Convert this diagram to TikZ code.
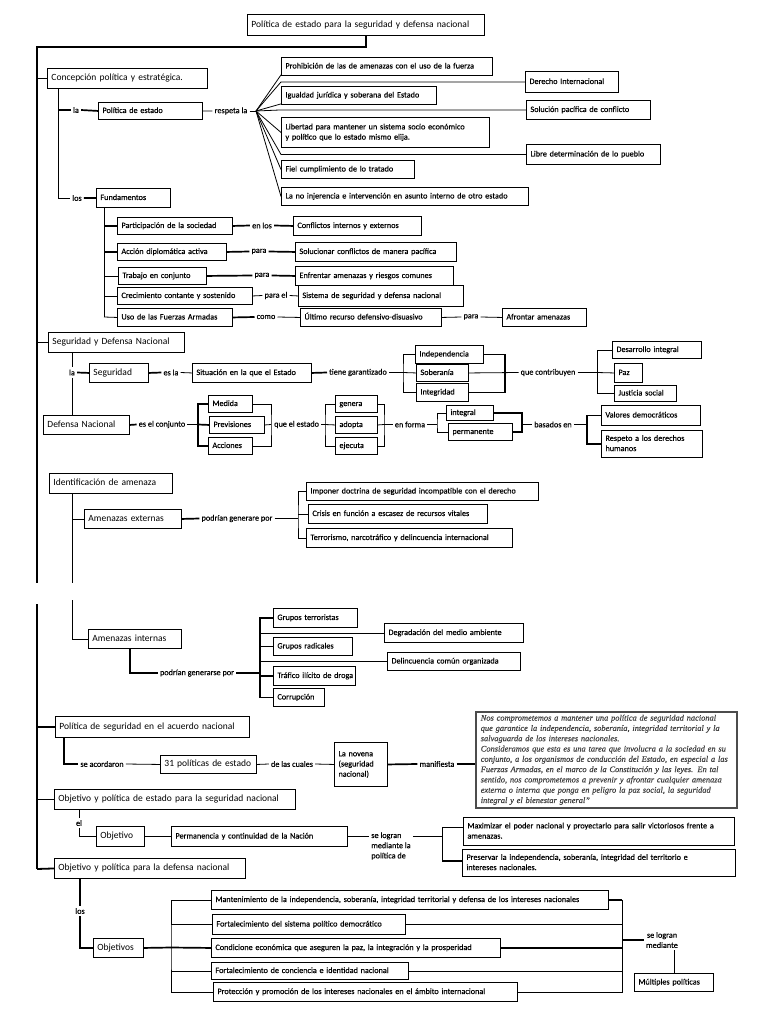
\documentclass[tikz,border=0pt]{standalone}
\usepackage{fontspec}
\setmainfont{Carlito}
\newfontfamily\boxfont[FakeBold=0.35]{Carlito}
\newfontfamily\qfont[FakeBold=0.3]{Liberation Serif}
\newcommand\smallf{\boxfont\fontsize{8.2}{10.2}\selectfont}
\newcommand\hdrf{\fontsize{9.5}{11}\selectfont}
\newcommand\bx[7][]{%
  \pgfmathsetmacro\bxw{#5-#3}\pgfmathsetmacro\bxh{#6-#4}\pgfmathsetmacro\bxt{#5-#3-8}%
  \node[box,#1,anchor=north west,minimum width=\bxw pt,minimum height=\bxh pt,text width=\bxt pt] (#2) at (#3,#4) {\begin{tabular}{@{}l@{}}#7\end{tabular}};}
\tikzset{
  box/.style={draw,line width=0.9pt,fill=white,inner ysep=0pt,inner xsep=4pt,align=left,font=\smallf},
  hdr/.style={font=\hdrf},
  lbl/.style={font=\smallf,inner sep=2pt},
  ln/.style={line width=0.8pt},
  thk/.style={line width=1.7pt},
  spine/.style={line width=1.8pt},
  qbox/.style={draw=black!70,line width=1.5pt,anchor=north west,text width=251pt,inner xsep=5pt,inner ysep=3pt,minimum height=96pt,align=left,text=black!75,font=\qfont\itshape\fontsize{8.4}{10.3}\selectfont}
}
\begin{document}
\begin{tikzpicture}[x=1pt,y=-1pt]
\useasboundingbox (0,0) rectangle (768,1024);
\fill[white] (0,0) rectangle (768,1024);

% ---------- title and spine
\bx[hdr]{title}{247}{14}{484}{35}{Política de estado para la seguridad y defensa nacional}
\coordinate (sp) at (37,47);
\coordinate (spe) at (37,583);
\coordinate (sp2) at (37,604);
\draw[spine] (title.south) |- (sp) -- (spe);

% ---------- Concepcion
\bx[hdr]{c1}{47}{68}{207}{88}{Concepción política y estratégica.}
\draw[spine] (sp |- c1.west) -- (c1.west);
\coordinate (v1b) at (58,198);
\node[lbl] (la1) at (76,110) {la};
\node[lbl] (los1) at (77,198) {los};
\bx{pe}{98}{102}{202}{119}{Política de estado}
\bx{f0}{96}{188}{170}{207}{Fundamentos}
\draw[ln] (v1b |- c1.south) -- (v1b) -- (los1.west);
\draw[thk] (la1.west -| v1b) -- (la1.west);
\draw[thk] (la1.east) -- (pe.west);
\draw[thk] (los1.east) -- (f0.west);

\node[lbl] (resp) at (231,111) {respeta la};
\coordinate (F) at (256,111);
\draw[ln] (pe.east) -- (resp.west);
\draw[ln] (resp.east) -- (F);

\bx{p1}{281}{57}{492}{75}{Prohibición de las de amenazas con el uso de la fuerza}
\bx{d1}{525}{71}{618}{92}{Derecho Internacional}
\bx{p2}{281}{86}{436}{104}{Igualdad jurídica y soberana del Estado}
\bx{d2}{526}{100}{650}{119}{Solución pacífica de conflicto}
\bx{p3}{281}{117}{489}{147}{Libertad para mantener un sistema socio económico\\y político que lo estado mismo elija.}
\bx{d3}{526}{144}{660}{164}{Libre determinación de lo pueblo}
\bx{p4}{281}{160}{414}{178}{Fiel cumplimiento de lo tratado}
\bx{p5}{281}{187}{528}{205}{La no injerencia e intervención en asunto interno de otro estado}
\draw[ln] (F) -- ([yshift=1pt]p1.south west);
\draw[ln] (F) -- (d1.west -| p1.west) -- (d1.west);
\draw[ln] (F) -- ([yshift=1pt]p2.south west);
\draw[ln] (F) -- (d2.west -| p1.west) -- (d2.west);
\draw[ln] (F) -- (p3.west);
\draw[ln] (F) -- (d3.west -| p1.west) -- (d3.west);
\draw[ln] (F) -- (p4.west);
\draw[ln] (F) -- (p5.west);

% ---------- Fundamentos rows
\coordinate (v2) at (104,317);
\bx{r1}{117}{217}{232}{234}{Participación de la sociedad}
\bx{r2}{117}{243}{226}{260}{Acción diplomática activa}
\bx{r3}{118}{267}{206}{284}{Trabajo en conjunto}
\bx{r4}{117}{287}{252}{304}{Crecimiento contante y sostenido}
\bx{r5}{117}{308}{232}{326}{Uso de las Fuerzas Armadas}
\draw[ln] (v2 |- f0.south) -- (v2);
\draw[thk] (r1.west -| v2) -- (r1.west);
\draw[thk] (r2.west -| v2) -- (r2.west);
\draw[ln] (r3.west -| v2) -- (r3.west);
\draw[ln] (r4.west -| v2) -- (r4.west);
\draw[ln] (v2) -- (r5.west);

\node[lbl] (r1l) at (262,225.5) {en los};
\bx{t1}{293}{216}{421}{235}{Conflictos internos y externos}
\draw[thk] (r1.east) -- (r1l.west);
\draw[thk] (r1l.east) -- (t1.west);

\node[lbl] (r2l) at (259,251.5) {para};
\bx{t2}{295}{242}{456}{261}{Solucionar conflictos de manera pacífica}
\draw[thk] (r2.east) -- (r2l.west);
\draw[thk] (r2l.east) -- (t2.west);

\node[lbl] (r3l) at (262,275.5) {para};
\bx{t3}{295}{266}{453}{285}{Enfrentar amenazas y riesgos comunes}
\draw[thk] (r3.east) -- (r3l.west);
\draw[thk] (r3l.east) -- (t3.west);

\node[lbl] (r4l) at (276,295.5) {para el};
\bx{t4}{298}{285}{463}{306}{Sistema de seguridad y defensa nacional}
\draw[ln] (r4.east) -- (r4l.west);
\draw[ln] (r4l.east) -- (t4.west);

\node[lbl] (r5l) at (266,317) {como};
\bx{t5}{300}{308}{441}{326}{Último recurso defensivo-disuasivo}
\node[lbl] (r5m) at (471,317) {para};
\bx{t6}{502}{308}{586}{326}{Afrontar amenazas}
\draw[thk] (r5.east) -- (r5l.west);
\draw[ln] (r5l.east) -- (t5.west);
\draw[ln] (t5.east) -- (r5m.west);
\draw[ln] (r5m.east) -- (t6.west);

% ---------- Seguridad y Defensa Nacional
\bx[hdr]{sdn}{48}{332}{184}{352}{Seguridad y Defensa Nacional}
\draw[spine] (sp |- sdn.west) -- (sdn.west);
\node[lbl] (la2) at (72,372.5) {la};
\bx[hdr]{seg}{89}{363}{148}{382}{Seguridad}
\bx[hdr]{dn}{43}{415}{129}{434}{Defensa Nacional}
\draw[ln] (la2 |- sdn.south) -- (la2.north);
\draw[ln] (la2.south) -- (la2 |- dn.north);
\draw[thk] (la2.east) -- (seg.west);

\node[lbl] (esla) at (171,372.5) {es la};
\bx{sit}{192}{363}{311}{382}{Situación en la que el Estado}
\draw[thk] (seg.east) -- (esla.west);
\draw[ln] (esla.east) -- (sit.west);
\node[lbl] (tg) at (358,372.5) {tiene garantizado};
\draw[thk] (sit.east) -- (tg.west);
\coordinate (b1) at (403,372.5);
\draw[ln] (tg.east) -- (b1);
\bx{ind}{415}{345}{483}{363}{Independencia}
\bx{sob}{416}{364}{468}{381}{Soberanía}
\bx{itd}{416}{383}{468}{401}{Integridad}
\draw[ln] (ind.west) -| (b1) |- (itd.west);
\draw[ln] (b1) -- (sob.west);
\coordinate (b2) at (505,372.5);
\draw[thk] (ind.east) -| (b2) |- (itd.east);
\node[lbl] (qc) at (548,372.5) {que contribuyen};
\draw[ln] (sob.east) -- (qc.west);
\coordinate (b3) at (597,372.5);
\draw[thk] (qc.east) -- (b3);
\bx{des}{612}{341}{701}{358}{Desarrollo integral}
\bx{paz}{614}{363}{642}{382}{Paz}
\bx{jus}{614}{385}{676}{401}{Justicia social}
\draw[ln] (des.west) -| (b3) |- (jus.west);
\draw[ln] (b3) -- (paz.west);

\node[lbl] (ec) at (162,424.5) {es el conjunto};
\draw[thk] (dn.east) -- (ec.west);
\coordinate (b4) at (198,424.5);
\draw[thk] (ec.east) -- (b4);
\bx{med}{208}{395}{252}{412}{Medida}
\bx{pre}{209}{416}{264}{433}{Previsiones}
\bx{acc}{208}{437}{252}{454}{Acciones}
\draw[thk] (med.west) -| (b4) |- (acc.west);
\draw[thk] (b4) -- (pre.west);
\coordinate (b5) at (271,424.5);
\draw[ln] (med.east) -| (b5) |- (acc.east);
\draw[ln] (pre.east) -- (b5);
\node[lbl,anchor=west] (qe) at (272,424.5) {que el estado};
\coordinate (b6) at (325,424.5);
\draw[ln] (qe.east) -- (b6);
\bx{gen}{335}{395}{377}{412}{genera}
\bx{ado}{335}{416}{377}{433}{adopta}
\bx{eje}{335}{437}{377}{454}{ejecuta}
\draw[ln] (gen.west) -| (b6) |- (eje.west);
\draw[ln] (b6) -- (ado.west);
\coordinate (b7) at (384,424.5);
\draw[ln] (gen.east) -| (b7) |- (eje.east);
\draw[ln] (ado.east) -- (b7);
\node[lbl] (ef) at (410,424.5) {en forma};
\draw[ln] (b7) -- (ef.west);
\coordinate (b8) at (437,424.5);
\draw[ln] (ef.east) -- (b8);
\bx{itg}{446}{405}{493}{420}{integral}
\bx{per}{448}{423}{512}{440}{permanente}
\draw[ln] (itg.west) -| (b8) |- (per.west);
\coordinate (b9) at (522,424.5);
\draw[thk] (itg.east) -| (b9) |- (per.east);
\node[lbl] (bas) at (553,424.5) {basados en};
\draw[ln] (b9) -- (bas.west);
\coordinate (b10) at (587,424.5);
\draw[thk] (bas.east) -- (b10);
\bx{val}{601}{405}{700}{425}{Valores democráticos}
\bx{res}{601}{430}{702}{457}{Respeto a los derechos\\humanos}
\draw[thk] (val.west) -| (b10) |- (res.west);

% ---------- Identificacion de amenaza
\bx[hdr]{ia}{49}{473}{172}{493}{Identificación de amenaza}
\coordinate (v3a) at (72,583);
\coordinate (v3b) at (72,600);
\bx[hdr]{ae}{84}{509}{181}{528}{Amenazas externas}
\draw[ln] (v3a |- ia.south) -- (v3a);
\draw[ln] (v3a |- ae.west) -- (ae.west);
\node[lbl] (pg1) at (237,518.5) {podrían generare por};
\draw[thk] (ae.east) -- (pg1.west);
\coordinate (b11) at (298,518.5);
\draw[thk] (pg1.east) -- (b11);
\bx{im}{306}{482}{538}{500}{Imponer doctrina de seguridad incompatible con el derecho}
\bx{cr}{308}{504}{487}{523}{Crisis en función a escasez de recursos vitales}
\bx{te}{306}{528}{512}{547}{Terrorismo, narcotráfico y delincuencia internacional}
\draw[ln] (im.west) -| (b11) |- (te.west);
\draw[ln] (b11 |- cr.west) -- (cr.west);

\bx[hdr]{ai}{88}{629}{181}{648}{Amenazas internas}
\draw[ln] (v3b) |- (ai.west);
\node[lbl] (pg2) at (197,673) {podrían generarse por};
\draw[thk] ([xshift=-5pt]ai.south) |- (pg2.west);
\coordinate (b12) at (260,673);
\draw[thk] (pg2.east) -- (b12);
\bx{gt}{273}{608}{357}{627}{Grupos terroristas}
\bx{dg}{384}{623}{523}{642}{Degradación del medio ambiente}
\bx{gr}{273}{637}{352}{655}{Grupos radicales}
\bx{dc}{387}{652}{520}{670}{Delincuencia común organizada}
\bx{ti}{273}{666}{355}{685}{Tráfico ilícito de droga}
\bx{co}{273}{688}{324}{706}{Corrupción}
\draw[thk] (gt.west) -| (b12) |- (co.west);
\draw[ln] (b12 |- dg.west) -- (dg.west);
\draw[thk] (b12 |- gr.west) -- (gr.west);
\draw[thk] (b12 |- dc.west) -- (dc.west);
\draw[thk] (b12 |- ti.west) -- (ti.west);

% ---------- Politica de seguridad en el acuerdo nacional
\draw[spine] (sp2) -- (sp2 |- 0,869);
\bx[hdr]{psa}{55}{716}{249}{737}{Política de seguridad en el acuerdo nacional}
\draw[spine] (sp2 |- psa.west) -- (psa.west);
\node[lbl] (sa) at (102,764) {se acordaron};
\draw[thk] ([xshift=9pt]psa.south west) |- (sa.west);
\bx[hdr]{p31}{160}{755}{256}{773}{31 políticas de estado}
\draw[ln] (sa.east) -- (p31.west);
\node[lbl] (dlc) at (292,764) {de las cuales};
\draw[ln] (p31.east) -- (dlc.west);
\bx{nov}{334}{742}{387}{786}{La novena\\(seguridad\\nacional)}
\draw[ln] (dlc.east) -- (nov.west);
\node[lbl] (man) at (437,764) {manifiesta};
\draw[thk] (nov.east) -- (man.west);
\node[qbox] (quote) at (475,711) {%
\makebox[\linewidth][s]{Nos comprometemos a mantener una política de seguridad nacional}\\
\makebox[\linewidth][s]{que garantice la independencia, soberanía, integridad territorial y la}\\
salvaguarda de los intereses nacionales.\\
\makebox[\linewidth][s]{Consideramos que esta es una tarea que involucra a la sociedad en su}\\
\makebox[\linewidth][s]{conjunto, a los organismos de conducción del Estado, en especial a las}\\
\makebox[\linewidth][s]{Fuerzas Armadas, en el marco de la Constitución y las leyes. En tal}\\
\makebox[\linewidth][s]{sentido, nos comprometemos a prevenir y afrontar cualquier amenaza}\\
\makebox[\linewidth][s]{externa o interna que ponga en peligro la paz social, la seguridad}\\
integral y el bienestar general”};
\draw[thk] (man.east) -- (man.east -| quote.west);

% ---------- Objetivo y politica de estado para la seguridad nacional
\bx[hdr]{ope}{54}{789}{295}{809}{Objetivo y política de estado para la seguridad nacional}
\draw[spine] (sp2 |- ope.west) -- (ope.west);
\node[lbl] (el) at (79,823) {el};
\bx[hdr]{obj}{96}{826}{144}{846}{Objetivo}
\draw[ln] (el |- ope.south) -- (el.north);
\draw[ln] (el.south) |- (obj.west);
\bx{pcn}{171}{826}{347}{846}{Permanencia y continuidad de la Nación}
\draw[thk] (obj.east) -- (pcn.west);
\node[lbl,align=left] (slm) at (391,846) {se logran\\mediante la\\política de};
\draw[thk] (pcn.east) -- (pcn.east -| slm.west);
\coordinate (b13) at (442,836);
\coordinate (b13a) at (442,827);
\coordinate (b13b) at (442,861);
\draw[ln] (slm.east |- b13) -- (b13);
\bx{max}{463}{817}{734}{845}{Maximizar el poder nacional y proyectarlo para salir victoriosos frente a\\amenazas.}
\bx{pres}{462}{849}{735}{876}{Preservar la independencia, soberanía, integridad del territorio e\\intereses nacionales.}
\draw[ln] (max.west |- b13a) -- (b13a) -- (b13b);
\draw[thk] (b13b) -- (pres.west |- b13b);

% ---------- Objetivo y politica para la defensa nacional
\bx[hdr]{odn}{54}{858}{245}{878}{Objetivo y política para la defensa nacional}
\draw[spine] (sp2 |- 0,869) -- (odn.west);
\node[lbl] (los2) at (80,911) {los};
\draw[thk] (los2 |- odn.south) -- (los2.north);
\bx[hdr]{objs}{93}{938}{143}{957}{Objetivos}
\draw[thk] (los2.south) |- (objs.west);
\coordinate (b14) at (171,947.5);
\draw[thk] (objs.east) -- (b14);
\bx{o1}{211}{890}{608}{909}{Mantenimiento de la independencia, soberanía, integridad territorial y defensa de los intereses nacionales}
\bx{o2}{212}{914}{405}{934}{Fortalecimiento del sistema político democrático}
\bx{o3}{211}{938}{500}{957}{Condicione económica que aseguren la paz, la integración y la prosperidad}
\bx{o4}{211}{962}{408}{979}{Fortalecimiento de conciencia e identidad nacional}
\bx{o5}{213}{982}{517}{1001}{Protección y promoción de los intereses nacionales en el ámbito internacional}
\draw[ln] (o1.west) -| (b14) |- (o5.west);
\draw[ln] (b14 |- o2.west) -- (o2.west);
\draw[thk] (b14) -- (o3.west);
\draw[ln] (b14 |- o4.west) -- (o4.west);
\coordinate (b15) at (622,940);
\draw[thk] (o1.east) -- (o1.east -| b15);
\draw[ln] (o1.east -| b15) -- (o5.east -| b15) -- (o5.east);
\draw[ln] (o2.east) -- (o2.east -| b15);
\draw[thk] (o3.east) -- (o3.east -| b15);
\draw[ln] (o4.east) -- (o4.east -| b15);
\node[lbl,align=center] (slm2) at (662,940) {se logran\\mediante};
\draw[thk] (b15) -- (slm2.west);
\bx{mp}{634}{973}{713}{991}{Múltiples políticas}
\draw[ln] (mp.north |- slm2.south) -- (mp.north);
\end{tikzpicture}
\end{document}
